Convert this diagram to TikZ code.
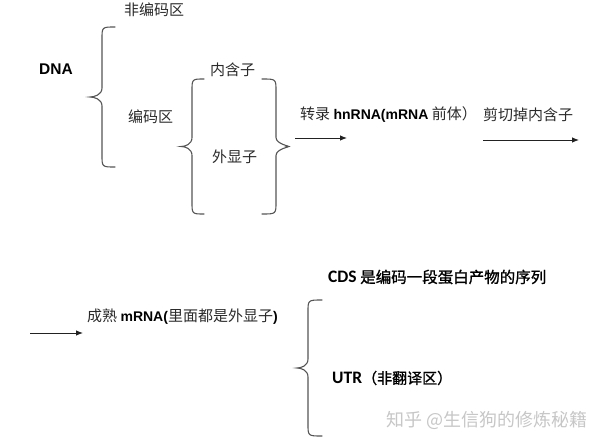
\documentclass[tikz,border=0pt]{standalone}
\usepackage{fontspec}
\setmainfont{Noto Sans CJK SC}
\newfontfamily\cjkbold{Noto Sans CJK SC}[FakeBold=1.2]
\newfontfamily\arialf{Liberation Sans}
\newfontfamily\calibf{Carlito}
\usetikzlibrary{arrows.meta}
\definecolor{txt}{HTML}{2A2A2A}
\definecolor{brc}{HTML}{555555}
\definecolor{arr}{HTML}{222222}
\newcommand{\drawLBrace}[5]{% xe xv xt ytop ybot
  \pgfmathsetmacro{\ym}{(#4+#5)/2}
  \draw[bracestyle] (#1,#4) .. controls (#2,#4) .. (#2,#4+12)
    -- (#2,\ym-9) .. controls (#2,\ym-2) and (#3+4,\ym) .. (#3,\ym)
    .. controls (#3+4,\ym) and (#2,\ym+2) .. (#2,\ym+9)
    -- (#2,#5-12) .. controls (#2,#5) .. (#1,#5);}
\begin{document}
\begin{tikzpicture}[x=1pt,y=-1pt,
  lbl/.style={anchor=west,inner sep=0pt,text=txt,font=\fontsize{15}{18}\selectfont},
  bracestyle/.style={draw=brc,line width=1.1pt,line cap=round},
  arrowline/.style={draw=arr,line width=0.9pt,-{Latex[length=7pt,width=5.5pt]}},
]
\useasboundingbox[fill=white] (0,0) rectangle (600,444);
% texts
\node[lbl] (nc) at (124,10) {非编码区};
\node[lbl,text=black,font=\arialf\bfseries\fontsize{15.5}{18}\selectfont] (dna) at (39,69) {DNA};
\node[lbl] (cr) at (128,117) {编码区};
\node[lbl] (intron) at (210,70) {内含子};
\node[lbl] (exon) at (212,157) {外显子};
\node[lbl] (tr) at (300,115) {转录 {\color{black}\arialf\bfseries\fontsize{14}{18}\selectfont hnRNA(mRNA} 前体）};
\node[lbl] (cut) at (483,115) {剪切掉内含子};
\node[lbl] (mature) at (87,317) {成熟 {\color{black}\arialf\bfseries\fontsize{14}{18}\selectfont mRNA(}里面都是外显子{\color{black}\arialf\bfseries\fontsize{14}{18}\selectfont )}};
\node[lbl,text=black,font=\cjkbold\fontsize{15.5}{18}\selectfont] (cds) at (328,277) {{\calibf\bfseries\fontsize{17.5}{18}\selectfont CDS} 是编码一段蛋白产物的序列};
\node[lbl,text=black,font=\cjkbold\fontsize{15}{18}\selectfont] (utr) at (332,378) {{\calibf\bfseries\fontsize{17.5}{18}\selectfont UTR}（非翻译区）};
\node[lbl,text=black!22,font=\fontsize{18}{20}\selectfont] (wm) at (386,420) {知乎 @生信狗的修炼秘籍};
% braces
\drawLBrace{115}{102}{90}{27}{167}
\drawLBrace{204}{192}{181}{79}{214}
\drawLBrace{262}{276}{288}{79}{214}
\drawLBrace{322}{308}{297}{300}{436}
% arrows
\coordinate (a1s) at (295,138); \coordinate (a1e) at (347,138);
\coordinate (a2s) at (483,140); \coordinate (a2e) at (579,140);
\coordinate (a3s) at (30,333);  \coordinate (a3e) at (83,333);
\draw[arrowline] (a1s) -- (a1e);
\draw[arrowline] (a2s) -- (a2e);
\draw[arrowline] (a3s) -- (a3e);
\end{tikzpicture}
\end{document}
